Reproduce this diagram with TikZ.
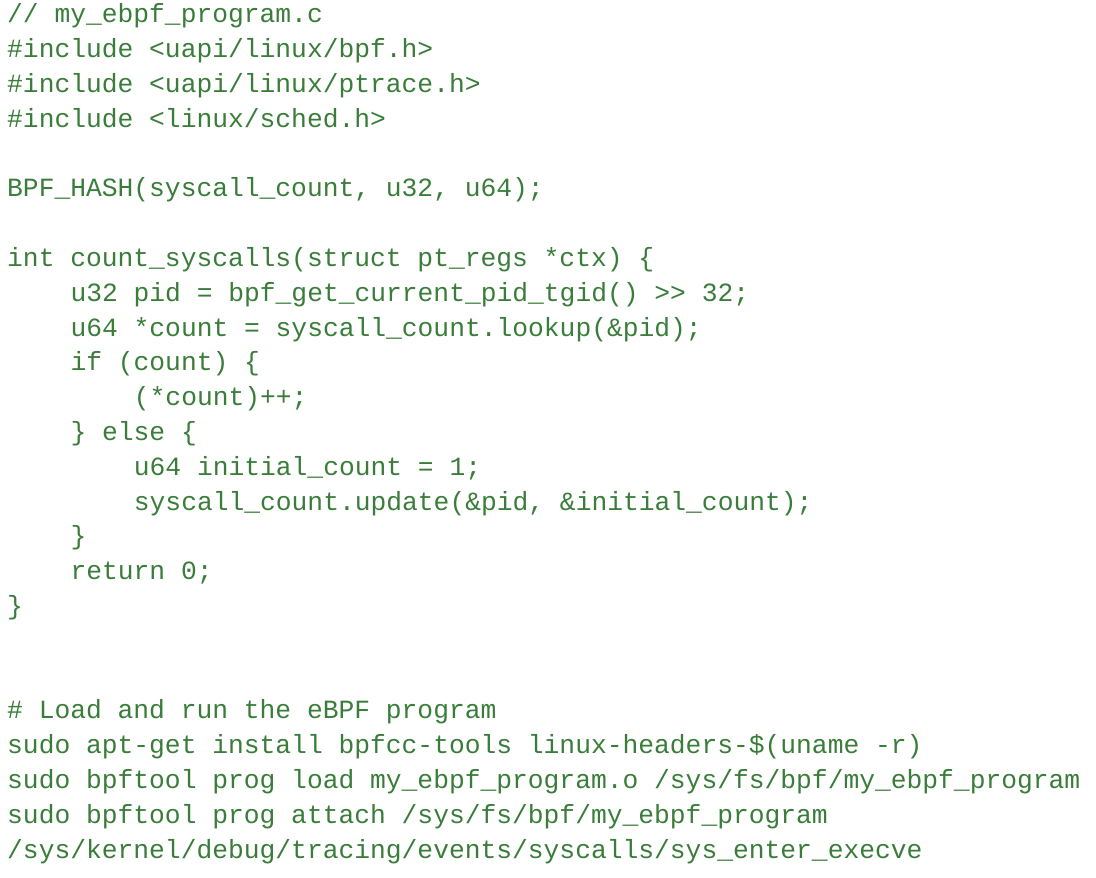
\documentclass[tikz,border=0pt]{standalone}
\usepackage{fontspec}
\setmonofont{Liberation Mono}
\definecolor{codegreen}{HTML}{3A7D3A}
\begin{document}
\begin{tikzpicture}[x=1pt,y=1pt,
  codeline/.style={anchor=base west,inner sep=0pt,text=codegreen,font=\ttfamily\fontsize{26.3}{30}\selectfont}]
\useasboundingbox (0,0) rectangle (1096,878);
\def\ln#1#2#3{\node[codeline] (l#1) at ({7+#2*15.84},{878-23-#1*34.8}) {#3};}
\ln{0}{0}{// my\_ebpf\_program.c}
\ln{1}{0}{\#include <uapi/linux/bpf.h>}
\ln{2}{0}{\#include <uapi/linux/ptrace.h>}
\ln{3}{0}{\#include <linux/sched.h>}
\ln{5}{0}{BPF\_HASH(syscall\_count, u32, u64);}
\ln{7}{0}{int count\_syscalls(struct pt\_regs *ctx) \{}
\ln{8}{4}{u32 pid = bpf\_get\_current\_pid\_tgid() >> 32;}
\ln{9}{4}{u64 *count = syscall\_count.lookup(\&pid);}
\ln{10}{4}{if (count) \{}
\ln{11}{8}{(*count)++;}
\ln{12}{4}{\} else \{}
\ln{13}{8}{u64 initial\_count = 1;}
\ln{14}{8}{syscall\_count.update(\&pid, \&initial\_count);}
\ln{15}{4}{\}}
\ln{16}{4}{return 0;}
\ln{17}{0}{\}}
\ln{20}{0}{\# Load and run the eBPF program}
\ln{21}{0}{sudo apt-get install bpfcc-tools linux-headers-\$(uname -r)}
\ln{22}{0}{sudo bpftool prog load my\_ebpf\_program.o /sys/fs/bpf/my\_ebpf\_program}
\ln{23}{0}{sudo bpftool prog attach /sys/fs/bpf/my\_ebpf\_program}
\ln{24}{0}{/sys/kernel/debug/tracing/events/syscalls/sys\_enter\_execve}
\end{tikzpicture}
\end{document}
